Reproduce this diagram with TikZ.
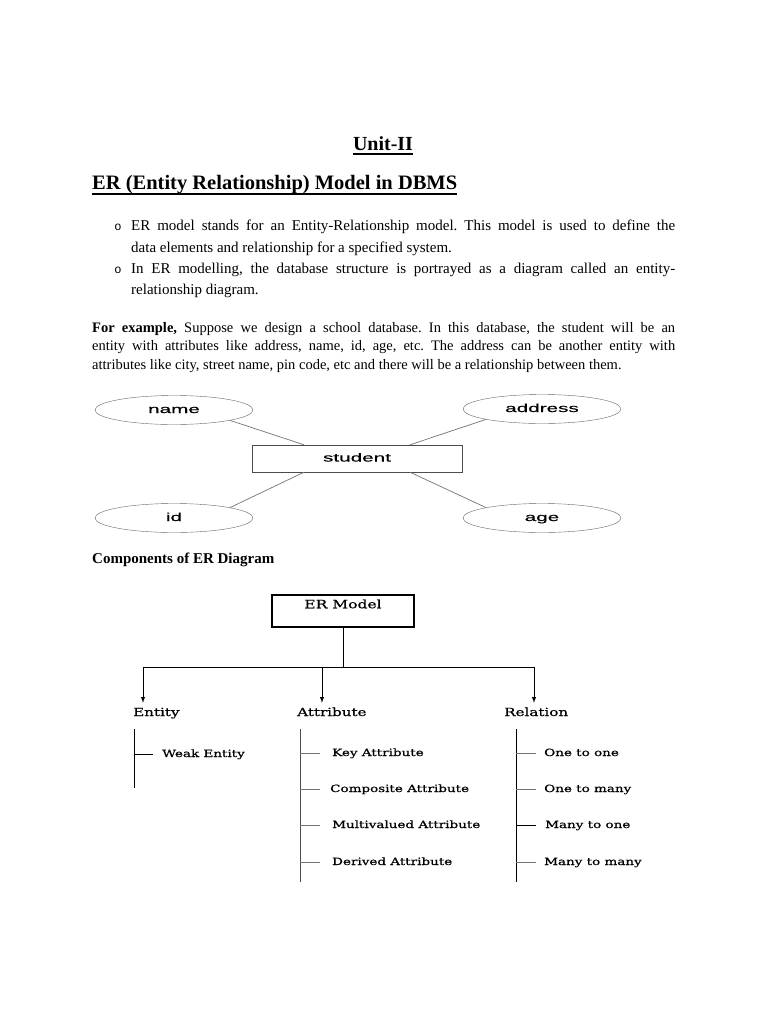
\documentclass[tikz,border=0pt]{standalone}
\usepackage{fontspec}
\setmainfont{Liberation Serif}
\newfontfamily\erfont[FakeStretch=1.8,FakeBold=0.4]{Liberation Sans}
\newfontfamily\treefont[FakeStretch=1.35,FakeBold=0.6]{DejaVu Serif}
\newfontfamily\bulfont{Liberation Mono}
\usetikzlibrary{arrows,positioning,calc,shapes.geometric}

\begin{document}
\frenchspacing
\begin{tikzpicture}[x=1pt,y=-1pt,
txtpara/.style={inner sep=0pt,anchor=base west,align=justify},
bulletmark/.style={inner sep=0pt,anchor=base,font=\bulfont\fontsize{12}{12}\selectfont},
erattr/.style={ellipse,draw=black!60,minimum width=158pt,minimum height=29pt,inner sep=0pt,
  text height=8pt,text depth=2pt,font=\erfont\fontsize{11.5}{12}\selectfont},
erentity/.style={rectangle,draw=black!70,minimum width=210pt,minimum height=27pt,inner sep=0pt,
  text height=8pt,text depth=2pt,font=\erfont\fontsize{11.5}{12}\selectfont},
erlink/.style={draw=black!55,line width=0.7pt},
compname/.style={inner sep=0pt,anchor=base west,text height=9pt,font=\treefont\fontsize{11.2}{12}\selectfont},
compitem/.style={inner sep=0pt,anchor=west,text height=8pt,text depth=2pt,font=\treefont\fontsize{10}{12}\selectfont},
compline/.style={line width=1pt},
comptick/.style={draw=black!55,line width=0.8pt}]

\fill[white] (0,0) rectangle (768,1024);
\useasboundingbox (0,0) rectangle (768,1024);

% headings
\node[inner sep=0pt,anchor=base,font=\bfseries\fontsize{20}{24}\selectfont] (unit) at (383,151) {Unit-II};
\draw[line width=1.3pt] ([yshift=-3pt]unit.base west) -- ([yshift=-3pt]unit.base east);
\node[inner sep=0pt,anchor=base west,font=\bfseries\fontsize{20.5}{24}\selectfont] (title) at (92,190) {ER (Entity Relationship) Model in DBMS};
\draw[line width=1.3pt] ([yshift=-4pt]title.base west) -- ([yshift=-4pt]title.base east);

% bullets
\node[bulletmark] (b1) at (118,231) {o};
\node[txtpara,text width=544pt,font=\fontsize{15}{21}\selectfont] (p1) at (131,231)
  {ER model stands for an Entity-Relationship model. This model is used to define the\linebreak
   data elements and relationship for a specified system.};
\node[bulletmark] (b2) at (118,273) {o};
\node[txtpara,text width=544pt,font=\fontsize{15}{21}\selectfont] (p2) at (131,273)
  {In ER modelling, the database structure is portrayed as a diagram called an entity-\linebreak
   relationship diagram.};
\node[txtpara,text width=583pt,font=\fontsize{14.5}{18.5}\selectfont] (p3) at (92,332)
  {\textbf{For example,} Suppose we design a school database. In this database, the student will be an\linebreak
   entity with attributes like address, name, id, age, etc. The address can be another entity with\linebreak
   attributes like city, street name, pin code, etc and there will be a relationship between them.};

% ER diagram
\node[erattr] (name) at (174,410) {name};
\node[erattr] (address) at (542,409) {address};
\node[erentity] (student) at (357,458.5) {student};
\node[erattr] (id) at (174,518) {id};
\node[erattr] (age) at (542,518) {age};
\draw[erlink] (name.south east) -- ([xshift=-53pt]student.north);
\draw[erlink] (address.south west) -- ([xshift=53pt]student.north);
\draw[erlink] (id.north east) -- ([xshift=-53pt]student.south);
\draw[erlink] (age.north west) -- ([xshift=53pt]student.south);

\node[inner sep=0pt,anchor=base west,font=\bfseries\fontsize{15}{18}\selectfont] (comp) at (92,563) {Components of ER Diagram};

% components tree
\node[draw,line width=1.2pt,minimum width=142pt,minimum height=32pt,inner sep=0pt,
  text height=8.5pt,text depth=14pt,font=\treefont\fontsize{11.5}{12}\selectfont] (ermodel) at (343,611) {ER Model};
\coordinate (hub) at (343,667);
\coordinate (hl) at (143,667);
\coordinate (hm) at (322,667);
\coordinate (hr) at (534,667);
\node[compname] (entity) at (133,716) {Entity};
\node[compname] (attribute) at (297,716) {Attribute};
\node[compname] (relation) at (504,716) {Relation};
\draw[compline] (ermodel.south) -- (hub);
\draw[compline] (hl) -- (hr);
\draw[compline,-latex,shorten >=4pt] (hl) -- (hl |- entity.north);
\draw[compline,-latex,shorten >=4pt] (hm) -- (hm |- attribute.north);
\draw[compline,-latex,shorten >=4pt] (hr) -- (hr |- relation.north);

% entity branch
\coordinate (etop) at (134,729);
\coordinate (ebot) at (134,788);
\draw[compline] (etop) -- (ebot);
\node[compitem] (weak) at (162,754) {Weak Entity};
\draw[compline] (weak.west -| etop) -- ([xshift=-9pt]weak.west);

% attribute branch
\coordinate (atop) at (300,729);
\coordinate (abot) at (300,882);
\draw[compline,black!70] (atop) -- (abot);
\node[compitem] (key) at (332,753) {Key Attribute};
\node[compitem] (composite) at (330,789) {Composite Attribute};
\node[compitem] (multi) at (332,825) {Multivalued Attribute};
\node[compitem] (derived) at (332,862) {Derived Attribute};
\draw[comptick] (key.west -| atop) -- ([xshift=-12pt]key.west);
\draw[comptick] (composite.west -| atop) -- ([xshift=-10pt]composite.west);
\draw[comptick] (multi.west -| atop) -- ([xshift=-12pt]multi.west);
\draw[comptick] (derived.west -| atop) -- ([xshift=-12pt]derived.west);

% relation branch
\coordinate (rtop) at (516,729);
\coordinate (rbot) at (516,882);
\draw[compline] (rtop) -- (rbot);
\node[compitem] (oneone) at (544,753) {One to one};
\node[compitem] (onemany) at (544,789) {One to many};
\node[compitem] (manyone) at (545,825) {Many to one};
\node[compitem] (manymany) at (544,862) {Many to many};
\draw[comptick] (oneone.west -| rtop) -- ([xshift=-8pt]oneone.west);
\draw[comptick] (onemany.west -| rtop) -- ([xshift=-8pt]onemany.west);
\draw[comptick,black] (manyone.west -| rtop) -- ([xshift=-9pt]manyone.west);
\draw[comptick] (manymany.west -| rtop) -- ([xshift=-8pt]manymany.west);
\end{tikzpicture}
\end{document}
